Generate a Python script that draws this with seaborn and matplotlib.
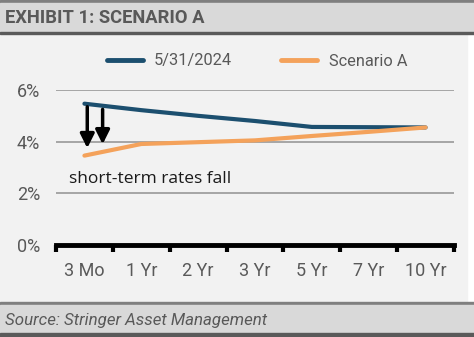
import matplotlib
matplotlib.use("Agg")
import matplotlib.pyplot as plt
import seaborn as sns
import pandas as pd
from matplotlib.patches import Rectangle
from matplotlib.lines import Line2D
from matplotlib import font_manager

categories = ["3 Mo", "1 Yr", "2 Yr", "3 Yr", "5 Yr", "7 Yr", "10 Yr"]
current = [5.47, 5.22, 5.00, 4.80, 4.57, 4.56, 4.55]
scenario_a = [3.46, 3.91, 3.98, 4.05, 4.22, 4.38, 4.55]
series_names = ["5/31/2024", "Scenario A"]
y_ticks = [0, 2, 4, 6]
y_tick_labels = ["0%", "2%", "4%", "6%"]

names = {f.name for f in font_manager.fontManager.ttflist}
narrow = "Liberation Sans Narrow" if "Liberation Sans Narrow" in names else "Roboto"

sns.set_theme(style="white")
plt.rcParams["font.family"] = [narrow, "DejaVu Sans"]

df = pd.DataFrame({
    "tenor": categories * 2,
    "rate": current + scenario_a,
    "series": [series_names[0]] * len(categories) + [series_names[1]] * len(categories),
})

W, H = 474, 337
fig = plt.figure(figsize=(W / 100, H / 100), dpi=100)
fig.patch.set_facecolor("white")

def band(y0, y1, color, x0=0, x1=W):
    fig.patches.append(Rectangle((x0 / W, 1 - y1 / H), (x1 - x0) / W, (y1 - y0) / H,
                                 transform=fig.transFigure, color=color, zorder=-5))

# panel background
band(34, 302, "#f2f2f2", 0, 467)
# header
band(0, 3, "#7f7f7f")
band(3, 32, "#d9d9d9")
band(32, 34, "#5a5a5a")
# footer
band(302, 305, "#7f7f7f")
band(305, 333, "#d9d9d9")
band(333, 337, "#5a5a5a")

fig.text(5 / W, 1 - 18 / H, "EXHIBIT 1: SCENARIO A", fontsize=13.2, fontweight="bold",
         color="#595959", va="center", ha="left")
fig.text(5 / W, 1 - 320 / H, "Source: Stringer Asset Management", fontsize=12.2,
         fontstyle="italic", color="#595959", va="center", ha="left")

left, right, top, bottom = 56, 454, 90, 245
ax = fig.add_axes([left / W, 1 - bottom / H, (right - left) / W, (bottom - top) / H])
ax.set_facecolor("none")
ax.set_zorder(2)

sns.lineplot(data=df, x="tenor", y="rate", hue="series",
             palette={series_names[0]: "#1c4f6f", series_names[1]: "#f4a25b"},
             linewidth=3, ax=ax, legend=False, sort=False)
for ln in ax.lines:
    ln.set_solid_capstyle("round")
    ln.set_clip_on(False)

ax.set_xlim(-0.5, len(categories) - 0.5)
ax.set_ylim(0, 6)
ax.set_xticks(range(len(categories)))
ax.set_xticklabels(categories, fontsize=13, color="#595959")
ax.set_xticks([i - 0.5 for i in range(len(categories) + 1)], minor=True)
ax.tick_params(axis="x", which="major", length=0, pad=12, bottom=True)
ax.tick_params(axis="x", which="minor", length=5, width=3, color="black",
               direction="out", bottom=True)
ax.set_yticks(y_ticks)
ax.set_yticklabels(y_tick_labels, fontsize=13, color="#595959")
ax.tick_params(axis="y", length=0, pad=11.5)
ax.yaxis.grid(True, color="#999999", linewidth=1.2)
ax.set_axisbelow(True)
for s in ["top", "right", "left"]:
    ax.spines[s].set_visible(False)
ax.spines["bottom"].set_linewidth(3.5)
ax.spines["bottom"].set_color("black")
ax.spines["bottom"].set_zorder(5)
ax.set_xlabel("")
ax.set_ylabel("")

# arrows
for xa, y0, y1 in [(0.05, 5.35, 3.75), (0.32, 5.25, 3.9)]:
    ax.annotate("", xy=(xa, y1), xytext=(xa, y0),
                arrowprops=dict(arrowstyle="-|>,head_width=0.35,head_length=0.7",
                                color="black", lw=2.5, shrinkA=0, shrinkB=0))
ax.text(-0.27, 2.55, "short-term rates fall", fontsize=12.5, family=["Open Sans", "DejaVu Sans"],
        color="#1a1a1a", ha="left", va="center")

# legend
handles = [Line2D([], [], color="#1c4f6f", lw=3.5), Line2D([], [], color="#f4a25b", lw=3.5)]
fig.legend(handles, series_names, loc="center", bbox_to_anchor=(257 / W, 1 - 61 / H),
           ncol=2, frameon=False, fontsize=11.8, handlelength=2.2, handletextpad=0.7,
           columnspacing=3.0, labelcolor="#595959")

fig.savefig("out.png", dpi=100, facecolor=fig.get_facecolor())
